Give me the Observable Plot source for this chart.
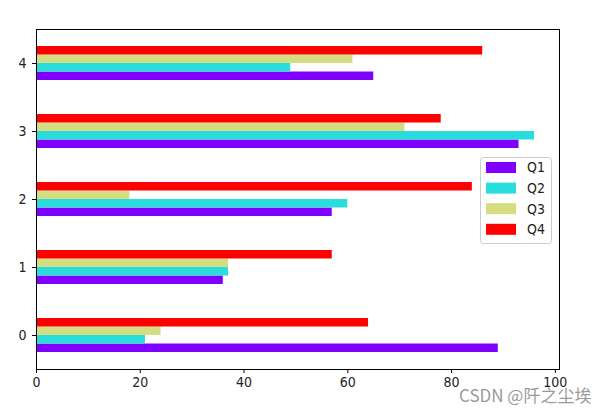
<!DOCTYPE html>
<html>
<head>
<meta charset="utf-8">
<script src="https://cdn.jsdelivr.net/npm/d3@7"></script>
<script src="https://cdn.jsdelivr.net/npm/@observablehq/plot@0.6"></script>
<style>
  body { margin: 0; background: #fff; }
  #wrap { position: relative; width: 611px; height: 413px; }
  #wm { position: absolute; left: 459px; top: 384px; font: 17px/22px "Noto Sans CJK SC", sans-serif; color: #9a9a9a; white-space: nowrap; }
</style>
</head>
<body>
<div id="wrap"><div id="chart"></div><div id="wm">CSDN @阡之尘埃</div></div>
<script>
const categories = [0, 1, 2, 3, 4];
const series = ["Q1", "Q2", "Q3", "Q4"];
const q1 = [89, 36, 57, 93, 65];
const q2 = [21, 37, 60, 96, 49];
const q3 = [24, 37, 18, 71, 61];
const q4 = [64, 57, 84, 78, 86];
const colors = ["#8000ff", "#2adddd", "#d4dd80", "#ff0000"];
const xTicks = [0, 20, 40, 60, 80, 100];

const values = [q1, q2, q3, q4];
const barWidth = 0.5 / series.length;
const rows = [];
categories.forEach((c, i) => {
  series.forEach((s, j) => {
    rows.push({cat: c, series: s, value: values[j][i],
      y1: c - 0.25 + j * barWidth, y2: c - 0.25 + (j + 1) * barWidth});
  });
});

const font = '"DejaVu Sans Condensed", "DejaVu Sans", sans-serif';
const plot = Plot.plot({
  width: 611,
  height: 413,
  marginLeft: 36,
  marginRight: 52,
  marginTop: 29,
  marginBottom: 44,
  style: {fontFamily: font, fontSize: "14px", color: "#000", background: "#fff"},
  x: {domain: [0, 100.8], ticks: xTicks, label: null},
  y: {domain: [-0.5, 4.5], ticks: categories, label: null},
  color: {domain: series, range: colors},
  marks: [
    Plot.rect(rows, {x1: 0, x2: "value", y1: "y1", y2: "y2", fill: "series"}),
    Plot.axisX({ticks: xTicks, tickSize: 4, tickPadding: 4, stroke: "#000", fill: "#222", fontSize: 14, tickFormat: d => String(d)}),
    Plot.axisY({ticks: categories, tickSize: 4, tickPadding: 6, stroke: "#000", fill: "#222", fontSize: 14, tickFormat: d => String(d)}),
    Plot.frame({stroke: "#000", strokeWidth: 1})
  ]
});
document.getElementById("chart").appendChild(plot);

// legend (matplotlib style, inside the axes)
const svg = d3.select(plot);
const lg = svg.append("g").attr("font-family", font).attr("font-size", 14).attr("text-anchor", "start");
lg.append("rect").attr("x", 480.5).attr("y", 157.5).attr("width", 71).attr("height", 86)
  .attr("rx", 3).attr("fill", "#fff").attr("fill-opacity", 0.8).attr("stroke", "#ccc");
series.forEach((s, j) => {
  const cy = 167.5 + j * 20.6;
  lg.append("rect").attr("x", 486).attr("y", cy - 5.5).attr("width", 30).attr("height", 11).attr("fill", colors[j]);
  lg.append("text").attr("x", 527).attr("y", cy).attr("dy", "0.35em").attr("text-anchor", "start").attr("fill", "#222").text(s);
});
</script>
</body>
</html>
